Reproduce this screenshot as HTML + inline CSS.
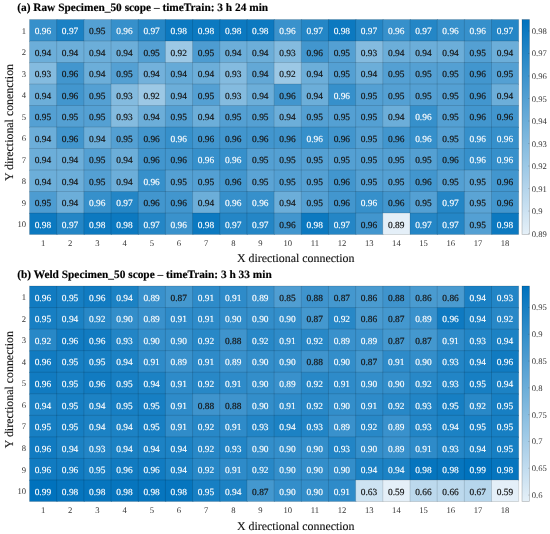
<!DOCTYPE html>
<html><head><meta charset="utf-8"><style>
html,body{margin:0;padding:0;background:#fff;width:550px;height:534px;overflow:hidden}
svg{display:block;text-rendering:geometricPrecision}
text{font-family:"Liberation Serif","Times New Roman",serif;font-size:9.4px;text-anchor:middle}
text.tk{font-size:8.6px;fill:#333;text-anchor:start}
text.ti{font-size:11.35px;font-weight:bold;fill:#000;stroke:#000;stroke-width:0.15px;text-anchor:start;letter-spacing:0px}
text.ax{font-size:11.9px;fill:#111;stroke:#111;stroke-width:0.12px;text-anchor:start}
text.tm{text-anchor:middle}
text.te{text-anchor:end}
</style></head><body>
<svg width="550" height="534" viewBox="0 0 550 534">
<rect width="550" height="534" fill="#fff"/>
<rect x="29.50" y="19.50" width="27.98" height="22.30" fill="#3690cb"/>
<rect x="56.68" y="19.50" width="27.98" height="22.30" fill="#1b81c4"/>
<rect x="83.86" y="19.50" width="27.98" height="22.30" fill="#54a0d3"/>
<rect x="111.03" y="19.50" width="27.98" height="22.30" fill="#3690cb"/>
<rect x="138.21" y="19.50" width="27.98" height="22.30" fill="#2486c6"/>
<rect x="165.39" y="19.50" width="27.98" height="22.30" fill="#0c79c0"/>
<rect x="192.57" y="19.50" width="27.98" height="22.30" fill="#0c79c0"/>
<rect x="219.74" y="19.50" width="27.98" height="22.30" fill="#0c79c0"/>
<rect x="246.92" y="19.50" width="27.98" height="22.30" fill="#0c79c0"/>
<rect x="274.10" y="19.50" width="27.98" height="22.30" fill="#3a92cc"/>
<rect x="301.28" y="19.50" width="27.98" height="22.30" fill="#2486c6"/>
<rect x="328.46" y="19.50" width="27.98" height="22.30" fill="#0c79c0"/>
<rect x="355.63" y="19.50" width="27.98" height="22.30" fill="#2486c6"/>
<rect x="382.81" y="19.50" width="27.98" height="22.30" fill="#3690cb"/>
<rect x="409.99" y="19.50" width="27.98" height="22.30" fill="#2486c6"/>
<rect x="437.17" y="19.50" width="27.98" height="22.30" fill="#3690cb"/>
<rect x="464.34" y="19.50" width="27.98" height="22.30" fill="#3690cb"/>
<rect x="491.52" y="19.50" width="27.18" height="22.30" fill="#2486c6"/>
<rect x="29.50" y="41.00" width="27.98" height="22.30" fill="#6caed9"/>
<rect x="56.68" y="41.00" width="27.98" height="22.30" fill="#6caed9"/>
<rect x="83.86" y="41.00" width="27.98" height="22.30" fill="#6caed9"/>
<rect x="111.03" y="41.00" width="27.98" height="22.30" fill="#6caed9"/>
<rect x="138.21" y="41.00" width="27.98" height="22.30" fill="#54a0d3"/>
<rect x="165.39" y="41.00" width="27.98" height="22.30" fill="#9cc8e5"/>
<rect x="192.57" y="41.00" width="27.98" height="22.30" fill="#4d9cd1"/>
<rect x="219.74" y="41.00" width="27.98" height="22.30" fill="#6caed9"/>
<rect x="246.92" y="41.00" width="27.98" height="22.30" fill="#6caed9"/>
<rect x="274.10" y="41.00" width="27.98" height="22.30" fill="#84bbdf"/>
<rect x="301.28" y="41.00" width="27.98" height="22.30" fill="#4296ce"/>
<rect x="328.46" y="41.00" width="27.98" height="22.30" fill="#54a0d3"/>
<rect x="355.63" y="41.00" width="27.98" height="22.30" fill="#84bbdf"/>
<rect x="382.81" y="41.00" width="27.98" height="22.30" fill="#6caed9"/>
<rect x="409.99" y="41.00" width="27.98" height="22.30" fill="#6caed9"/>
<rect x="437.17" y="41.00" width="27.98" height="22.30" fill="#6caed9"/>
<rect x="464.34" y="41.00" width="27.98" height="22.30" fill="#54a0d3"/>
<rect x="491.52" y="41.00" width="27.18" height="22.30" fill="#6caed9"/>
<rect x="29.50" y="62.50" width="27.98" height="22.30" fill="#84bbdf"/>
<rect x="56.68" y="62.50" width="27.98" height="22.30" fill="#4296ce"/>
<rect x="83.86" y="62.50" width="27.98" height="22.30" fill="#6caed9"/>
<rect x="111.03" y="62.50" width="27.98" height="22.30" fill="#54a0d3"/>
<rect x="138.21" y="62.50" width="27.98" height="22.30" fill="#73b1db"/>
<rect x="165.39" y="62.50" width="27.98" height="22.30" fill="#65aad7"/>
<rect x="192.57" y="62.50" width="27.98" height="22.30" fill="#6caed9"/>
<rect x="219.74" y="62.50" width="27.98" height="22.30" fill="#84bbdf"/>
<rect x="246.92" y="62.50" width="27.98" height="22.30" fill="#63a8d6"/>
<rect x="274.10" y="62.50" width="27.98" height="22.30" fill="#9cc8e5"/>
<rect x="301.28" y="62.50" width="27.98" height="22.30" fill="#6caed9"/>
<rect x="328.46" y="62.50" width="27.98" height="22.30" fill="#54a0d3"/>
<rect x="355.63" y="62.50" width="27.98" height="22.30" fill="#6caed9"/>
<rect x="382.81" y="62.50" width="27.98" height="22.30" fill="#54a0d3"/>
<rect x="409.99" y="62.50" width="27.98" height="22.30" fill="#54a0d3"/>
<rect x="437.17" y="62.50" width="27.98" height="22.30" fill="#54a0d3"/>
<rect x="464.34" y="62.50" width="27.98" height="22.30" fill="#4296ce"/>
<rect x="491.52" y="62.50" width="27.18" height="22.30" fill="#54a0d3"/>
<rect x="29.50" y="84.00" width="27.98" height="22.30" fill="#6caed9"/>
<rect x="56.68" y="84.00" width="27.98" height="22.30" fill="#4296ce"/>
<rect x="83.86" y="84.00" width="27.98" height="22.30" fill="#54a0d3"/>
<rect x="111.03" y="84.00" width="27.98" height="22.30" fill="#84bbdf"/>
<rect x="138.21" y="84.00" width="27.98" height="22.30" fill="#9cc8e5"/>
<rect x="165.39" y="84.00" width="27.98" height="22.30" fill="#6caed9"/>
<rect x="192.57" y="84.00" width="27.98" height="22.30" fill="#54a0d3"/>
<rect x="219.74" y="84.00" width="27.98" height="22.30" fill="#84bbdf"/>
<rect x="246.92" y="84.00" width="27.98" height="22.30" fill="#6caed9"/>
<rect x="274.10" y="84.00" width="27.98" height="22.30" fill="#4296ce"/>
<rect x="301.28" y="84.00" width="27.98" height="22.30" fill="#6caed9"/>
<rect x="328.46" y="84.00" width="27.98" height="22.30" fill="#3690cb"/>
<rect x="355.63" y="84.00" width="27.98" height="22.30" fill="#54a0d3"/>
<rect x="382.81" y="84.00" width="27.98" height="22.30" fill="#54a0d3"/>
<rect x="409.99" y="84.00" width="27.98" height="22.30" fill="#54a0d3"/>
<rect x="437.17" y="84.00" width="27.98" height="22.30" fill="#54a0d3"/>
<rect x="464.34" y="84.00" width="27.98" height="22.30" fill="#4296ce"/>
<rect x="491.52" y="84.00" width="27.18" height="22.30" fill="#6caed9"/>
<rect x="29.50" y="105.50" width="27.98" height="22.30" fill="#54a0d3"/>
<rect x="56.68" y="105.50" width="27.98" height="22.30" fill="#54a0d3"/>
<rect x="83.86" y="105.50" width="27.98" height="22.30" fill="#54a0d3"/>
<rect x="111.03" y="105.50" width="27.98" height="22.30" fill="#84bbdf"/>
<rect x="138.21" y="105.50" width="27.98" height="22.30" fill="#6caed9"/>
<rect x="165.39" y="105.50" width="27.98" height="22.30" fill="#54a0d3"/>
<rect x="192.57" y="105.50" width="27.98" height="22.30" fill="#6caed9"/>
<rect x="219.74" y="105.50" width="27.98" height="22.30" fill="#54a0d3"/>
<rect x="246.92" y="105.50" width="27.98" height="22.30" fill="#54a0d3"/>
<rect x="274.10" y="105.50" width="27.98" height="22.30" fill="#6caed9"/>
<rect x="301.28" y="105.50" width="27.98" height="22.30" fill="#54a0d3"/>
<rect x="328.46" y="105.50" width="27.98" height="22.30" fill="#54a0d3"/>
<rect x="355.63" y="105.50" width="27.98" height="22.30" fill="#54a0d3"/>
<rect x="382.81" y="105.50" width="27.98" height="22.30" fill="#6caed9"/>
<rect x="409.99" y="105.50" width="27.98" height="22.30" fill="#3690cb"/>
<rect x="437.17" y="105.50" width="27.98" height="22.30" fill="#54a0d3"/>
<rect x="464.34" y="105.50" width="27.98" height="22.30" fill="#4296ce"/>
<rect x="491.52" y="105.50" width="27.18" height="22.30" fill="#4296ce"/>
<rect x="29.50" y="127.00" width="27.98" height="22.30" fill="#6caed9"/>
<rect x="56.68" y="127.00" width="27.98" height="22.30" fill="#4296ce"/>
<rect x="83.86" y="127.00" width="27.98" height="22.30" fill="#6caed9"/>
<rect x="111.03" y="127.00" width="27.98" height="22.30" fill="#54a0d3"/>
<rect x="138.21" y="127.00" width="27.98" height="22.30" fill="#4296ce"/>
<rect x="165.39" y="127.00" width="27.98" height="22.30" fill="#3690cb"/>
<rect x="192.57" y="127.00" width="27.98" height="22.30" fill="#4296ce"/>
<rect x="219.74" y="127.00" width="27.98" height="22.30" fill="#4296ce"/>
<rect x="246.92" y="127.00" width="27.98" height="22.30" fill="#4296ce"/>
<rect x="274.10" y="127.00" width="27.98" height="22.30" fill="#4296ce"/>
<rect x="301.28" y="127.00" width="27.98" height="22.30" fill="#3690cb"/>
<rect x="328.46" y="127.00" width="27.98" height="22.30" fill="#4296ce"/>
<rect x="355.63" y="127.00" width="27.98" height="22.30" fill="#54a0d3"/>
<rect x="382.81" y="127.00" width="27.98" height="22.30" fill="#4296ce"/>
<rect x="409.99" y="127.00" width="27.98" height="22.30" fill="#3690cb"/>
<rect x="437.17" y="127.00" width="27.98" height="22.30" fill="#54a0d3"/>
<rect x="464.34" y="127.00" width="27.98" height="22.30" fill="#3690cb"/>
<rect x="491.52" y="127.00" width="27.18" height="22.30" fill="#3690cb"/>
<rect x="29.50" y="148.50" width="27.98" height="22.30" fill="#6caed9"/>
<rect x="56.68" y="148.50" width="27.98" height="22.30" fill="#6caed9"/>
<rect x="83.86" y="148.50" width="27.98" height="22.30" fill="#54a0d3"/>
<rect x="111.03" y="148.50" width="27.98" height="22.30" fill="#6caed9"/>
<rect x="138.21" y="148.50" width="27.98" height="22.30" fill="#4296ce"/>
<rect x="165.39" y="148.50" width="27.98" height="22.30" fill="#4296ce"/>
<rect x="192.57" y="148.50" width="27.98" height="22.30" fill="#3690cb"/>
<rect x="219.74" y="148.50" width="27.98" height="22.30" fill="#3690cb"/>
<rect x="246.92" y="148.50" width="27.98" height="22.30" fill="#54a0d3"/>
<rect x="274.10" y="148.50" width="27.98" height="22.30" fill="#54a0d3"/>
<rect x="301.28" y="148.50" width="27.98" height="22.30" fill="#54a0d3"/>
<rect x="328.46" y="148.50" width="27.98" height="22.30" fill="#54a0d3"/>
<rect x="355.63" y="148.50" width="27.98" height="22.30" fill="#54a0d3"/>
<rect x="382.81" y="148.50" width="27.98" height="22.30" fill="#54a0d3"/>
<rect x="409.99" y="148.50" width="27.98" height="22.30" fill="#54a0d3"/>
<rect x="437.17" y="148.50" width="27.98" height="22.30" fill="#4296ce"/>
<rect x="464.34" y="148.50" width="27.98" height="22.30" fill="#3690cb"/>
<rect x="491.52" y="148.50" width="27.18" height="22.30" fill="#3690cb"/>
<rect x="29.50" y="170.00" width="27.98" height="22.30" fill="#6caed9"/>
<rect x="56.68" y="170.00" width="27.98" height="22.30" fill="#6caed9"/>
<rect x="83.86" y="170.00" width="27.98" height="22.30" fill="#54a0d3"/>
<rect x="111.03" y="170.00" width="27.98" height="22.30" fill="#6caed9"/>
<rect x="138.21" y="170.00" width="27.98" height="22.30" fill="#3690cb"/>
<rect x="165.39" y="170.00" width="27.98" height="22.30" fill="#54a0d3"/>
<rect x="192.57" y="170.00" width="27.98" height="22.30" fill="#54a0d3"/>
<rect x="219.74" y="170.00" width="27.98" height="22.30" fill="#4296ce"/>
<rect x="246.92" y="170.00" width="27.98" height="22.30" fill="#5ba4d5"/>
<rect x="274.10" y="170.00" width="27.98" height="22.30" fill="#54a0d3"/>
<rect x="301.28" y="170.00" width="27.98" height="22.30" fill="#54a0d3"/>
<rect x="328.46" y="170.00" width="27.98" height="22.30" fill="#4296ce"/>
<rect x="355.63" y="170.00" width="27.98" height="22.30" fill="#54a0d3"/>
<rect x="382.81" y="170.00" width="27.98" height="22.30" fill="#54a0d3"/>
<rect x="409.99" y="170.00" width="27.98" height="22.30" fill="#4296ce"/>
<rect x="437.17" y="170.00" width="27.98" height="22.30" fill="#54a0d3"/>
<rect x="464.34" y="170.00" width="27.98" height="22.30" fill="#5ba4d5"/>
<rect x="491.52" y="170.00" width="27.18" height="22.30" fill="#4296ce"/>
<rect x="29.50" y="191.50" width="27.98" height="22.30" fill="#4d9cd1"/>
<rect x="56.68" y="191.50" width="27.98" height="22.30" fill="#6caed9"/>
<rect x="83.86" y="191.50" width="27.98" height="22.30" fill="#3690cb"/>
<rect x="111.03" y="191.50" width="27.98" height="22.30" fill="#2486c6"/>
<rect x="138.21" y="191.50" width="27.98" height="22.30" fill="#4296ce"/>
<rect x="165.39" y="191.50" width="27.98" height="22.30" fill="#4296ce"/>
<rect x="192.57" y="191.50" width="27.98" height="22.30" fill="#6caed9"/>
<rect x="219.74" y="191.50" width="27.98" height="22.30" fill="#3690cb"/>
<rect x="246.92" y="191.50" width="27.98" height="22.30" fill="#3690cb"/>
<rect x="274.10" y="191.50" width="27.98" height="22.30" fill="#6caed9"/>
<rect x="301.28" y="191.50" width="27.98" height="22.30" fill="#54a0d3"/>
<rect x="328.46" y="191.50" width="27.98" height="22.30" fill="#4296ce"/>
<rect x="355.63" y="191.50" width="27.98" height="22.30" fill="#3690cb"/>
<rect x="382.81" y="191.50" width="27.98" height="22.30" fill="#4296ce"/>
<rect x="409.99" y="191.50" width="27.98" height="22.30" fill="#54a0d3"/>
<rect x="437.17" y="191.50" width="27.98" height="22.30" fill="#2486c6"/>
<rect x="464.34" y="191.50" width="27.98" height="22.30" fill="#5ba4d5"/>
<rect x="491.52" y="191.50" width="27.18" height="22.30" fill="#4296ce"/>
<rect x="29.50" y="213.00" width="27.98" height="21.50" fill="#0c79c0"/>
<rect x="56.68" y="213.00" width="27.98" height="21.50" fill="#2486c6"/>
<rect x="83.86" y="213.00" width="27.98" height="21.50" fill="#0c79c0"/>
<rect x="111.03" y="213.00" width="27.98" height="21.50" fill="#0c79c0"/>
<rect x="138.21" y="213.00" width="27.98" height="21.50" fill="#2486c6"/>
<rect x="165.39" y="213.00" width="27.98" height="21.50" fill="#3a92cc"/>
<rect x="192.57" y="213.00" width="27.98" height="21.50" fill="#0c79c0"/>
<rect x="219.74" y="213.00" width="27.98" height="21.50" fill="#2486c6"/>
<rect x="246.92" y="213.00" width="27.98" height="21.50" fill="#2486c6"/>
<rect x="274.10" y="213.00" width="27.98" height="21.50" fill="#4296ce"/>
<rect x="301.28" y="213.00" width="27.98" height="21.50" fill="#0c79c0"/>
<rect x="328.46" y="213.00" width="27.98" height="21.50" fill="#2486c6"/>
<rect x="355.63" y="213.00" width="27.98" height="21.50" fill="#4296ce"/>
<rect x="382.81" y="213.00" width="27.98" height="21.50" fill="#e4eff8"/>
<rect x="409.99" y="213.00" width="27.98" height="21.50" fill="#2486c6"/>
<rect x="437.17" y="213.00" width="27.98" height="21.50" fill="#2486c6"/>
<rect x="464.34" y="213.00" width="27.98" height="21.50" fill="#54a0d3"/>
<rect x="491.52" y="213.00" width="27.18" height="21.50" fill="#0c79c0"/>
<path d="M56.68 19.50V234.50M83.86 19.50V234.50M111.03 19.50V234.50M138.21 19.50V234.50M165.39 19.50V234.50M192.57 19.50V234.50M219.74 19.50V234.50M246.92 19.50V234.50M274.10 19.50V234.50M301.28 19.50V234.50M328.46 19.50V234.50M355.63 19.50V234.50M382.81 19.50V234.50M409.99 19.50V234.50M437.17 19.50V234.50M464.34 19.50V234.50M491.52 19.50V234.50M29.50 41.00H518.70M29.50 62.50H518.70M29.50 84.00H518.70M29.50 105.50H518.70M29.50 127.00H518.70M29.50 148.50H518.70M29.50 170.00H518.70M29.50 191.50H518.70M29.50 213.00H518.70" stroke="#000" stroke-opacity="0.15" stroke-width="0.9" fill="none"/>
<rect x="29.50" y="19.50" width="489.20" height="215.00" fill="none" stroke="#000" stroke-opacity="0.15" stroke-width="0.9"/>
<text x="42.89" y="34.25" fill="#fff" stroke="#fff" stroke-width="0.12">0.96</text>
<text x="70.07" y="34.25" fill="#fff" stroke="#fff" stroke-width="0.12">0.97</text>
<text x="97.24" y="34.25" fill="#151515" stroke="#151515" stroke-width="0.18">0.95</text>
<text x="124.42" y="34.25" fill="#fff" stroke="#fff" stroke-width="0.12">0.96</text>
<text x="151.60" y="34.25" fill="#fff" stroke="#fff" stroke-width="0.12">0.97</text>
<text x="178.78" y="34.25" fill="#fff" stroke="#fff" stroke-width="0.12">0.98</text>
<text x="205.96" y="34.25" fill="#fff" stroke="#fff" stroke-width="0.12">0.98</text>
<text x="233.13" y="34.25" fill="#fff" stroke="#fff" stroke-width="0.12">0.98</text>
<text x="260.31" y="34.25" fill="#fff" stroke="#fff" stroke-width="0.12">0.98</text>
<text x="287.49" y="34.25" fill="#fff" stroke="#fff" stroke-width="0.12">0.96</text>
<text x="314.67" y="34.25" fill="#fff" stroke="#fff" stroke-width="0.12">0.97</text>
<text x="341.84" y="34.25" fill="#fff" stroke="#fff" stroke-width="0.12">0.98</text>
<text x="369.02" y="34.25" fill="#fff" stroke="#fff" stroke-width="0.12">0.97</text>
<text x="396.20" y="34.25" fill="#fff" stroke="#fff" stroke-width="0.12">0.96</text>
<text x="423.38" y="34.25" fill="#fff" stroke="#fff" stroke-width="0.12">0.97</text>
<text x="450.56" y="34.25" fill="#fff" stroke="#fff" stroke-width="0.12">0.96</text>
<text x="477.73" y="34.25" fill="#fff" stroke="#fff" stroke-width="0.12">0.96</text>
<text x="504.91" y="34.25" fill="#fff" stroke="#fff" stroke-width="0.12">0.97</text>
<text x="42.89" y="55.75" fill="#151515" stroke="#151515" stroke-width="0.18">0.94</text>
<text x="70.07" y="55.75" fill="#151515" stroke="#151515" stroke-width="0.18">0.94</text>
<text x="97.24" y="55.75" fill="#151515" stroke="#151515" stroke-width="0.18">0.94</text>
<text x="124.42" y="55.75" fill="#151515" stroke="#151515" stroke-width="0.18">0.94</text>
<text x="151.60" y="55.75" fill="#151515" stroke="#151515" stroke-width="0.18">0.95</text>
<text x="178.78" y="55.75" fill="#151515" stroke="#151515" stroke-width="0.18">0.92</text>
<text x="205.96" y="55.75" fill="#151515" stroke="#151515" stroke-width="0.18">0.95</text>
<text x="233.13" y="55.75" fill="#151515" stroke="#151515" stroke-width="0.18">0.94</text>
<text x="260.31" y="55.75" fill="#151515" stroke="#151515" stroke-width="0.18">0.94</text>
<text x="287.49" y="55.75" fill="#151515" stroke="#151515" stroke-width="0.18">0.93</text>
<text x="314.67" y="55.75" fill="#151515" stroke="#151515" stroke-width="0.18">0.96</text>
<text x="341.84" y="55.75" fill="#151515" stroke="#151515" stroke-width="0.18">0.95</text>
<text x="369.02" y="55.75" fill="#151515" stroke="#151515" stroke-width="0.18">0.93</text>
<text x="396.20" y="55.75" fill="#151515" stroke="#151515" stroke-width="0.18">0.94</text>
<text x="423.38" y="55.75" fill="#151515" stroke="#151515" stroke-width="0.18">0.94</text>
<text x="450.56" y="55.75" fill="#151515" stroke="#151515" stroke-width="0.18">0.94</text>
<text x="477.73" y="55.75" fill="#151515" stroke="#151515" stroke-width="0.18">0.95</text>
<text x="504.91" y="55.75" fill="#151515" stroke="#151515" stroke-width="0.18">0.94</text>
<text x="42.89" y="77.25" fill="#151515" stroke="#151515" stroke-width="0.18">0.93</text>
<text x="70.07" y="77.25" fill="#151515" stroke="#151515" stroke-width="0.18">0.96</text>
<text x="97.24" y="77.25" fill="#151515" stroke="#151515" stroke-width="0.18">0.94</text>
<text x="124.42" y="77.25" fill="#151515" stroke="#151515" stroke-width="0.18">0.95</text>
<text x="151.60" y="77.25" fill="#151515" stroke="#151515" stroke-width="0.18">0.94</text>
<text x="178.78" y="77.25" fill="#151515" stroke="#151515" stroke-width="0.18">0.94</text>
<text x="205.96" y="77.25" fill="#151515" stroke="#151515" stroke-width="0.18">0.94</text>
<text x="233.13" y="77.25" fill="#151515" stroke="#151515" stroke-width="0.18">0.93</text>
<text x="260.31" y="77.25" fill="#151515" stroke="#151515" stroke-width="0.18">0.94</text>
<text x="287.49" y="77.25" fill="#151515" stroke="#151515" stroke-width="0.18">0.92</text>
<text x="314.67" y="77.25" fill="#151515" stroke="#151515" stroke-width="0.18">0.94</text>
<text x="341.84" y="77.25" fill="#151515" stroke="#151515" stroke-width="0.18">0.95</text>
<text x="369.02" y="77.25" fill="#151515" stroke="#151515" stroke-width="0.18">0.94</text>
<text x="396.20" y="77.25" fill="#151515" stroke="#151515" stroke-width="0.18">0.95</text>
<text x="423.38" y="77.25" fill="#151515" stroke="#151515" stroke-width="0.18">0.95</text>
<text x="450.56" y="77.25" fill="#151515" stroke="#151515" stroke-width="0.18">0.95</text>
<text x="477.73" y="77.25" fill="#151515" stroke="#151515" stroke-width="0.18">0.96</text>
<text x="504.91" y="77.25" fill="#151515" stroke="#151515" stroke-width="0.18">0.95</text>
<text x="42.89" y="98.75" fill="#151515" stroke="#151515" stroke-width="0.18">0.94</text>
<text x="70.07" y="98.75" fill="#151515" stroke="#151515" stroke-width="0.18">0.96</text>
<text x="97.24" y="98.75" fill="#151515" stroke="#151515" stroke-width="0.18">0.95</text>
<text x="124.42" y="98.75" fill="#151515" stroke="#151515" stroke-width="0.18">0.93</text>
<text x="151.60" y="98.75" fill="#151515" stroke="#151515" stroke-width="0.18">0.92</text>
<text x="178.78" y="98.75" fill="#151515" stroke="#151515" stroke-width="0.18">0.94</text>
<text x="205.96" y="98.75" fill="#151515" stroke="#151515" stroke-width="0.18">0.95</text>
<text x="233.13" y="98.75" fill="#151515" stroke="#151515" stroke-width="0.18">0.93</text>
<text x="260.31" y="98.75" fill="#151515" stroke="#151515" stroke-width="0.18">0.94</text>
<text x="287.49" y="98.75" fill="#151515" stroke="#151515" stroke-width="0.18">0.96</text>
<text x="314.67" y="98.75" fill="#151515" stroke="#151515" stroke-width="0.18">0.94</text>
<text x="341.84" y="98.75" fill="#fff" stroke="#fff" stroke-width="0.12">0.96</text>
<text x="369.02" y="98.75" fill="#151515" stroke="#151515" stroke-width="0.18">0.95</text>
<text x="396.20" y="98.75" fill="#151515" stroke="#151515" stroke-width="0.18">0.95</text>
<text x="423.38" y="98.75" fill="#151515" stroke="#151515" stroke-width="0.18">0.95</text>
<text x="450.56" y="98.75" fill="#151515" stroke="#151515" stroke-width="0.18">0.95</text>
<text x="477.73" y="98.75" fill="#151515" stroke="#151515" stroke-width="0.18">0.96</text>
<text x="504.91" y="98.75" fill="#151515" stroke="#151515" stroke-width="0.18">0.94</text>
<text x="42.89" y="120.25" fill="#151515" stroke="#151515" stroke-width="0.18">0.95</text>
<text x="70.07" y="120.25" fill="#151515" stroke="#151515" stroke-width="0.18">0.95</text>
<text x="97.24" y="120.25" fill="#151515" stroke="#151515" stroke-width="0.18">0.95</text>
<text x="124.42" y="120.25" fill="#151515" stroke="#151515" stroke-width="0.18">0.93</text>
<text x="151.60" y="120.25" fill="#151515" stroke="#151515" stroke-width="0.18">0.94</text>
<text x="178.78" y="120.25" fill="#151515" stroke="#151515" stroke-width="0.18">0.95</text>
<text x="205.96" y="120.25" fill="#151515" stroke="#151515" stroke-width="0.18">0.94</text>
<text x="233.13" y="120.25" fill="#151515" stroke="#151515" stroke-width="0.18">0.95</text>
<text x="260.31" y="120.25" fill="#151515" stroke="#151515" stroke-width="0.18">0.95</text>
<text x="287.49" y="120.25" fill="#151515" stroke="#151515" stroke-width="0.18">0.94</text>
<text x="314.67" y="120.25" fill="#151515" stroke="#151515" stroke-width="0.18">0.95</text>
<text x="341.84" y="120.25" fill="#151515" stroke="#151515" stroke-width="0.18">0.95</text>
<text x="369.02" y="120.25" fill="#151515" stroke="#151515" stroke-width="0.18">0.95</text>
<text x="396.20" y="120.25" fill="#151515" stroke="#151515" stroke-width="0.18">0.94</text>
<text x="423.38" y="120.25" fill="#fff" stroke="#fff" stroke-width="0.12">0.96</text>
<text x="450.56" y="120.25" fill="#151515" stroke="#151515" stroke-width="0.18">0.95</text>
<text x="477.73" y="120.25" fill="#151515" stroke="#151515" stroke-width="0.18">0.96</text>
<text x="504.91" y="120.25" fill="#151515" stroke="#151515" stroke-width="0.18">0.96</text>
<text x="42.89" y="141.75" fill="#151515" stroke="#151515" stroke-width="0.18">0.94</text>
<text x="70.07" y="141.75" fill="#151515" stroke="#151515" stroke-width="0.18">0.96</text>
<text x="97.24" y="141.75" fill="#151515" stroke="#151515" stroke-width="0.18">0.94</text>
<text x="124.42" y="141.75" fill="#151515" stroke="#151515" stroke-width="0.18">0.95</text>
<text x="151.60" y="141.75" fill="#151515" stroke="#151515" stroke-width="0.18">0.96</text>
<text x="178.78" y="141.75" fill="#fff" stroke="#fff" stroke-width="0.12">0.96</text>
<text x="205.96" y="141.75" fill="#151515" stroke="#151515" stroke-width="0.18">0.96</text>
<text x="233.13" y="141.75" fill="#151515" stroke="#151515" stroke-width="0.18">0.96</text>
<text x="260.31" y="141.75" fill="#151515" stroke="#151515" stroke-width="0.18">0.96</text>
<text x="287.49" y="141.75" fill="#151515" stroke="#151515" stroke-width="0.18">0.96</text>
<text x="314.67" y="141.75" fill="#fff" stroke="#fff" stroke-width="0.12">0.96</text>
<text x="341.84" y="141.75" fill="#151515" stroke="#151515" stroke-width="0.18">0.96</text>
<text x="369.02" y="141.75" fill="#151515" stroke="#151515" stroke-width="0.18">0.95</text>
<text x="396.20" y="141.75" fill="#151515" stroke="#151515" stroke-width="0.18">0.96</text>
<text x="423.38" y="141.75" fill="#fff" stroke="#fff" stroke-width="0.12">0.96</text>
<text x="450.56" y="141.75" fill="#151515" stroke="#151515" stroke-width="0.18">0.95</text>
<text x="477.73" y="141.75" fill="#fff" stroke="#fff" stroke-width="0.12">0.96</text>
<text x="504.91" y="141.75" fill="#fff" stroke="#fff" stroke-width="0.12">0.96</text>
<text x="42.89" y="163.25" fill="#151515" stroke="#151515" stroke-width="0.18">0.94</text>
<text x="70.07" y="163.25" fill="#151515" stroke="#151515" stroke-width="0.18">0.94</text>
<text x="97.24" y="163.25" fill="#151515" stroke="#151515" stroke-width="0.18">0.95</text>
<text x="124.42" y="163.25" fill="#151515" stroke="#151515" stroke-width="0.18">0.94</text>
<text x="151.60" y="163.25" fill="#151515" stroke="#151515" stroke-width="0.18">0.96</text>
<text x="178.78" y="163.25" fill="#151515" stroke="#151515" stroke-width="0.18">0.96</text>
<text x="205.96" y="163.25" fill="#fff" stroke="#fff" stroke-width="0.12">0.96</text>
<text x="233.13" y="163.25" fill="#fff" stroke="#fff" stroke-width="0.12">0.96</text>
<text x="260.31" y="163.25" fill="#151515" stroke="#151515" stroke-width="0.18">0.95</text>
<text x="287.49" y="163.25" fill="#151515" stroke="#151515" stroke-width="0.18">0.95</text>
<text x="314.67" y="163.25" fill="#151515" stroke="#151515" stroke-width="0.18">0.95</text>
<text x="341.84" y="163.25" fill="#151515" stroke="#151515" stroke-width="0.18">0.95</text>
<text x="369.02" y="163.25" fill="#151515" stroke="#151515" stroke-width="0.18">0.95</text>
<text x="396.20" y="163.25" fill="#151515" stroke="#151515" stroke-width="0.18">0.95</text>
<text x="423.38" y="163.25" fill="#151515" stroke="#151515" stroke-width="0.18">0.95</text>
<text x="450.56" y="163.25" fill="#151515" stroke="#151515" stroke-width="0.18">0.96</text>
<text x="477.73" y="163.25" fill="#fff" stroke="#fff" stroke-width="0.12">0.96</text>
<text x="504.91" y="163.25" fill="#fff" stroke="#fff" stroke-width="0.12">0.96</text>
<text x="42.89" y="184.75" fill="#151515" stroke="#151515" stroke-width="0.18">0.94</text>
<text x="70.07" y="184.75" fill="#151515" stroke="#151515" stroke-width="0.18">0.94</text>
<text x="97.24" y="184.75" fill="#151515" stroke="#151515" stroke-width="0.18">0.95</text>
<text x="124.42" y="184.75" fill="#151515" stroke="#151515" stroke-width="0.18">0.94</text>
<text x="151.60" y="184.75" fill="#fff" stroke="#fff" stroke-width="0.12">0.96</text>
<text x="178.78" y="184.75" fill="#151515" stroke="#151515" stroke-width="0.18">0.95</text>
<text x="205.96" y="184.75" fill="#151515" stroke="#151515" stroke-width="0.18">0.95</text>
<text x="233.13" y="184.75" fill="#151515" stroke="#151515" stroke-width="0.18">0.96</text>
<text x="260.31" y="184.75" fill="#151515" stroke="#151515" stroke-width="0.18">0.95</text>
<text x="287.49" y="184.75" fill="#151515" stroke="#151515" stroke-width="0.18">0.95</text>
<text x="314.67" y="184.75" fill="#151515" stroke="#151515" stroke-width="0.18">0.95</text>
<text x="341.84" y="184.75" fill="#151515" stroke="#151515" stroke-width="0.18">0.96</text>
<text x="369.02" y="184.75" fill="#151515" stroke="#151515" stroke-width="0.18">0.95</text>
<text x="396.20" y="184.75" fill="#151515" stroke="#151515" stroke-width="0.18">0.95</text>
<text x="423.38" y="184.75" fill="#151515" stroke="#151515" stroke-width="0.18">0.96</text>
<text x="450.56" y="184.75" fill="#151515" stroke="#151515" stroke-width="0.18">0.95</text>
<text x="477.73" y="184.75" fill="#151515" stroke="#151515" stroke-width="0.18">0.95</text>
<text x="504.91" y="184.75" fill="#151515" stroke="#151515" stroke-width="0.18">0.96</text>
<text x="42.89" y="206.25" fill="#151515" stroke="#151515" stroke-width="0.18">0.95</text>
<text x="70.07" y="206.25" fill="#151515" stroke="#151515" stroke-width="0.18">0.94</text>
<text x="97.24" y="206.25" fill="#fff" stroke="#fff" stroke-width="0.12">0.96</text>
<text x="124.42" y="206.25" fill="#fff" stroke="#fff" stroke-width="0.12">0.97</text>
<text x="151.60" y="206.25" fill="#151515" stroke="#151515" stroke-width="0.18">0.96</text>
<text x="178.78" y="206.25" fill="#151515" stroke="#151515" stroke-width="0.18">0.96</text>
<text x="205.96" y="206.25" fill="#151515" stroke="#151515" stroke-width="0.18">0.94</text>
<text x="233.13" y="206.25" fill="#fff" stroke="#fff" stroke-width="0.12">0.96</text>
<text x="260.31" y="206.25" fill="#fff" stroke="#fff" stroke-width="0.12">0.96</text>
<text x="287.49" y="206.25" fill="#151515" stroke="#151515" stroke-width="0.18">0.94</text>
<text x="314.67" y="206.25" fill="#151515" stroke="#151515" stroke-width="0.18">0.95</text>
<text x="341.84" y="206.25" fill="#151515" stroke="#151515" stroke-width="0.18">0.96</text>
<text x="369.02" y="206.25" fill="#fff" stroke="#fff" stroke-width="0.12">0.96</text>
<text x="396.20" y="206.25" fill="#151515" stroke="#151515" stroke-width="0.18">0.96</text>
<text x="423.38" y="206.25" fill="#151515" stroke="#151515" stroke-width="0.18">0.95</text>
<text x="450.56" y="206.25" fill="#fff" stroke="#fff" stroke-width="0.12">0.97</text>
<text x="477.73" y="206.25" fill="#151515" stroke="#151515" stroke-width="0.18">0.95</text>
<text x="504.91" y="206.25" fill="#151515" stroke="#151515" stroke-width="0.18">0.96</text>
<text x="42.89" y="227.75" fill="#fff" stroke="#fff" stroke-width="0.12">0.98</text>
<text x="70.07" y="227.75" fill="#fff" stroke="#fff" stroke-width="0.12">0.97</text>
<text x="97.24" y="227.75" fill="#fff" stroke="#fff" stroke-width="0.12">0.98</text>
<text x="124.42" y="227.75" fill="#fff" stroke="#fff" stroke-width="0.12">0.98</text>
<text x="151.60" y="227.75" fill="#fff" stroke="#fff" stroke-width="0.12">0.97</text>
<text x="178.78" y="227.75" fill="#fff" stroke="#fff" stroke-width="0.12">0.96</text>
<text x="205.96" y="227.75" fill="#fff" stroke="#fff" stroke-width="0.12">0.98</text>
<text x="233.13" y="227.75" fill="#fff" stroke="#fff" stroke-width="0.12">0.97</text>
<text x="260.31" y="227.75" fill="#fff" stroke="#fff" stroke-width="0.12">0.97</text>
<text x="287.49" y="227.75" fill="#151515" stroke="#151515" stroke-width="0.18">0.96</text>
<text x="314.67" y="227.75" fill="#fff" stroke="#fff" stroke-width="0.12">0.98</text>
<text x="341.84" y="227.75" fill="#fff" stroke="#fff" stroke-width="0.12">0.97</text>
<text x="369.02" y="227.75" fill="#151515" stroke="#151515" stroke-width="0.18">0.96</text>
<text x="396.20" y="227.75" fill="#151515" stroke="#151515" stroke-width="0.18">0.89</text>
<text x="423.38" y="227.75" fill="#fff" stroke="#fff" stroke-width="0.12">0.97</text>
<text x="450.56" y="227.75" fill="#fff" stroke="#fff" stroke-width="0.12">0.97</text>
<text x="477.73" y="227.75" fill="#151515" stroke="#151515" stroke-width="0.18">0.95</text>
<text x="504.91" y="227.75" fill="#fff" stroke="#fff" stroke-width="0.12">0.98</text>
<text class="tk tm" x="43.09" y="246.00">1</text>
<text class="tk tm" x="70.27" y="246.00">2</text>
<text class="tk tm" x="97.44" y="246.00">3</text>
<text class="tk tm" x="124.62" y="246.00">4</text>
<text class="tk tm" x="151.80" y="246.00">5</text>
<text class="tk tm" x="178.98" y="246.00">6</text>
<text class="tk tm" x="206.16" y="246.00">7</text>
<text class="tk tm" x="233.33" y="246.00">8</text>
<text class="tk tm" x="260.51" y="246.00">9</text>
<text class="tk tm" x="287.69" y="246.00">10</text>
<text class="tk tm" x="314.87" y="246.00">11</text>
<text class="tk tm" x="342.04" y="246.00">12</text>
<text class="tk tm" x="369.22" y="246.00">13</text>
<text class="tk tm" x="396.40" y="246.00">14</text>
<text class="tk tm" x="423.58" y="246.00">15</text>
<text class="tk tm" x="450.76" y="246.00">16</text>
<text class="tk tm" x="477.93" y="246.00">17</text>
<text class="tk tm" x="505.11" y="246.00">18</text>
<text class="tk te" x="26.00" y="33.65">1</text>
<text class="tk te" x="26.00" y="55.15">2</text>
<text class="tk te" x="26.00" y="76.65">3</text>
<text class="tk te" x="26.00" y="98.15">4</text>
<text class="tk te" x="26.00" y="119.65">5</text>
<text class="tk te" x="26.00" y="141.15">6</text>
<text class="tk te" x="26.00" y="162.65">7</text>
<text class="tk te" x="26.00" y="184.15">8</text>
<text class="tk te" x="26.00" y="205.65">9</text>
<text class="tk te" x="26.00" y="227.15">10</text>
<defs><linearGradient id="ga" x1="0" y1="0" x2="0" y2="1"><stop offset="0.0000" stop-color="#0072bd"/><stop offset="0.0625" stop-color="#0e7ac1"/><stop offset="0.1250" stop-color="#1d82c4"/><stop offset="0.1875" stop-color="#2b8ac8"/><stop offset="0.2500" stop-color="#3992cc"/><stop offset="0.3125" stop-color="#4899cf"/><stop offset="0.3750" stop-color="#56a1d3"/><stop offset="0.4375" stop-color="#64a9d7"/><stop offset="0.5000" stop-color="#72b1da"/><stop offset="0.5625" stop-color="#81b9de"/><stop offset="0.6250" stop-color="#8fc1e2"/><stop offset="0.6875" stop-color="#9dc9e6"/><stop offset="0.7500" stop-color="#acd0e9"/><stop offset="0.8125" stop-color="#bad8ed"/><stop offset="0.8750" stop-color="#c8e0f1"/><stop offset="0.9375" stop-color="#d7e8f4"/><stop offset="1.0000" stop-color="#e5f0f8"/></linearGradient></defs>
<rect x="522" y="19.50" width="7.5" height="215.00" fill="url(#ga)" stroke="rgba(0,0,0,0.3)" stroke-width="0.6"/>
<path d="M528.00 233.60H529.5" stroke="rgba(0,0,0,0.3)" stroke-width="0.5"/>
<text class="tk" x="531.70" y="236.60">0.89</text>
<path d="M528.00 211.09H529.5" stroke="rgba(0,0,0,0.3)" stroke-width="0.5"/>
<text class="tk" x="531.70" y="214.09">0.9</text>
<path d="M528.00 188.57H529.5" stroke="rgba(0,0,0,0.3)" stroke-width="0.5"/>
<text class="tk" x="531.70" y="191.57">0.91</text>
<path d="M528.00 166.06H529.5" stroke="rgba(0,0,0,0.3)" stroke-width="0.5"/>
<text class="tk" x="531.70" y="169.06">0.92</text>
<path d="M528.00 143.55H529.5" stroke="rgba(0,0,0,0.3)" stroke-width="0.5"/>
<text class="tk" x="531.70" y="146.55">0.93</text>
<path d="M528.00 121.03H529.5" stroke="rgba(0,0,0,0.3)" stroke-width="0.5"/>
<text class="tk" x="531.70" y="124.03">0.94</text>
<path d="M528.00 98.52H529.5" stroke="rgba(0,0,0,0.3)" stroke-width="0.5"/>
<text class="tk" x="531.70" y="101.52">0.95</text>
<path d="M528.00 76.01H529.5" stroke="rgba(0,0,0,0.3)" stroke-width="0.5"/>
<text class="tk" x="531.70" y="79.01">0.96</text>
<path d="M528.00 53.49H529.5" stroke="rgba(0,0,0,0.3)" stroke-width="0.5"/>
<text class="tk" x="531.70" y="56.49">0.97</text>
<path d="M528.00 30.98H529.5" stroke="rgba(0,0,0,0.3)" stroke-width="0.5"/>
<text class="tk" x="531.70" y="33.98">0.98</text>
<text class="ti" x="17.2" y="10.80">(a) Raw Specimen_50 scope – timeTrain: 3 h 24 min</text>
<text class="ax" x="236.9" y="261.70">X directional connection</text>
<text class="ax tm" transform="translate(12.5,122.50) rotate(-90)" x="0" y="0">Y directional conenction</text>
<rect x="29.50" y="286.00" width="27.98" height="22.35" fill="#117bc1"/>
<rect x="56.68" y="286.00" width="27.98" height="22.35" fill="#177fc3"/>
<rect x="83.86" y="286.00" width="27.98" height="22.35" fill="#117bc1"/>
<rect x="111.03" y="286.00" width="27.98" height="22.35" fill="#1c82c4"/>
<rect x="138.21" y="286.00" width="27.98" height="22.35" fill="#3991cc"/>
<rect x="165.39" y="286.00" width="27.98" height="22.35" fill="#4498cf"/>
<rect x="192.57" y="286.00" width="27.98" height="22.35" fill="#2e8bc9"/>
<rect x="219.74" y="286.00" width="27.98" height="22.35" fill="#2e8bc9"/>
<rect x="246.92" y="286.00" width="27.98" height="22.35" fill="#3991cc"/>
<rect x="274.10" y="286.00" width="27.98" height="22.35" fill="#509ed2"/>
<rect x="301.28" y="286.00" width="27.98" height="22.35" fill="#3f94cd"/>
<rect x="328.46" y="286.00" width="27.98" height="22.35" fill="#4498cf"/>
<rect x="355.63" y="286.00" width="27.98" height="22.35" fill="#4a9bd0"/>
<rect x="382.81" y="286.00" width="27.98" height="22.35" fill="#3f94cd"/>
<rect x="409.99" y="286.00" width="27.98" height="22.35" fill="#4a9bd0"/>
<rect x="437.17" y="286.00" width="27.98" height="22.35" fill="#4a9bd0"/>
<rect x="464.34" y="286.00" width="27.98" height="22.35" fill="#1a80c4"/>
<rect x="491.52" y="286.00" width="27.18" height="22.35" fill="#2285c6"/>
<rect x="29.50" y="307.55" width="27.98" height="22.35" fill="#177fc3"/>
<rect x="56.68" y="307.55" width="27.98" height="22.35" fill="#1c82c4"/>
<rect x="83.86" y="307.55" width="27.98" height="22.35" fill="#2888c7"/>
<rect x="111.03" y="307.55" width="27.98" height="22.35" fill="#338eca"/>
<rect x="138.21" y="307.55" width="27.98" height="22.35" fill="#3991cc"/>
<rect x="165.39" y="307.55" width="27.98" height="22.35" fill="#2e8bc9"/>
<rect x="192.57" y="307.55" width="27.98" height="22.35" fill="#2e8bc9"/>
<rect x="219.74" y="307.55" width="27.98" height="22.35" fill="#338eca"/>
<rect x="246.92" y="307.55" width="27.98" height="22.35" fill="#338eca"/>
<rect x="274.10" y="307.55" width="27.98" height="22.35" fill="#338eca"/>
<rect x="301.28" y="307.55" width="27.98" height="22.35" fill="#4498cf"/>
<rect x="328.46" y="307.55" width="27.98" height="22.35" fill="#2888c7"/>
<rect x="355.63" y="307.55" width="27.98" height="22.35" fill="#4a9bd0"/>
<rect x="382.81" y="307.55" width="27.98" height="22.35" fill="#4498cf"/>
<rect x="409.99" y="307.55" width="27.98" height="22.35" fill="#3991cc"/>
<rect x="437.17" y="307.55" width="27.98" height="22.35" fill="#0f7ac1"/>
<rect x="464.34" y="307.55" width="27.98" height="22.35" fill="#1c82c4"/>
<rect x="491.52" y="307.55" width="27.18" height="22.35" fill="#2888c7"/>
<rect x="29.50" y="329.10" width="27.98" height="22.35" fill="#2888c7"/>
<rect x="56.68" y="329.10" width="27.98" height="22.35" fill="#117bc1"/>
<rect x="83.86" y="329.10" width="27.98" height="22.35" fill="#117bc1"/>
<rect x="111.03" y="329.10" width="27.98" height="22.35" fill="#2285c6"/>
<rect x="138.21" y="329.10" width="27.98" height="22.35" fill="#338eca"/>
<rect x="165.39" y="329.10" width="27.98" height="22.35" fill="#338eca"/>
<rect x="192.57" y="329.10" width="27.98" height="22.35" fill="#2888c7"/>
<rect x="219.74" y="329.10" width="27.98" height="22.35" fill="#3f94cd"/>
<rect x="246.92" y="329.10" width="27.98" height="22.35" fill="#2888c7"/>
<rect x="274.10" y="329.10" width="27.98" height="22.35" fill="#2e8bc9"/>
<rect x="301.28" y="329.10" width="27.98" height="22.35" fill="#2888c7"/>
<rect x="328.46" y="329.10" width="27.98" height="22.35" fill="#3991cc"/>
<rect x="355.63" y="329.10" width="27.98" height="22.35" fill="#3991cc"/>
<rect x="382.81" y="329.10" width="27.98" height="22.35" fill="#4498cf"/>
<rect x="409.99" y="329.10" width="27.98" height="22.35" fill="#4498cf"/>
<rect x="437.17" y="329.10" width="27.98" height="22.35" fill="#2e8bc9"/>
<rect x="464.34" y="329.10" width="27.98" height="22.35" fill="#2285c6"/>
<rect x="491.52" y="329.10" width="27.18" height="22.35" fill="#1c82c4"/>
<rect x="29.50" y="350.65" width="27.98" height="22.35" fill="#117bc1"/>
<rect x="56.68" y="350.65" width="27.98" height="22.35" fill="#177fc3"/>
<rect x="83.86" y="350.65" width="27.98" height="22.35" fill="#177fc3"/>
<rect x="111.03" y="350.65" width="27.98" height="22.35" fill="#1c82c4"/>
<rect x="138.21" y="350.65" width="27.98" height="22.35" fill="#2e8bc9"/>
<rect x="165.39" y="350.65" width="27.98" height="22.35" fill="#3991cc"/>
<rect x="192.57" y="350.65" width="27.98" height="22.35" fill="#2e8bc9"/>
<rect x="219.74" y="350.65" width="27.98" height="22.35" fill="#3991cc"/>
<rect x="246.92" y="350.65" width="27.98" height="22.35" fill="#338eca"/>
<rect x="274.10" y="350.65" width="27.98" height="22.35" fill="#338eca"/>
<rect x="301.28" y="350.65" width="27.98" height="22.35" fill="#3f94cd"/>
<rect x="328.46" y="350.65" width="27.98" height="22.35" fill="#338eca"/>
<rect x="355.63" y="350.65" width="27.98" height="22.35" fill="#4498cf"/>
<rect x="382.81" y="350.65" width="27.98" height="22.35" fill="#2e8bc9"/>
<rect x="409.99" y="350.65" width="27.98" height="22.35" fill="#338eca"/>
<rect x="437.17" y="350.65" width="27.98" height="22.35" fill="#2285c6"/>
<rect x="464.34" y="350.65" width="27.98" height="22.35" fill="#1c82c4"/>
<rect x="491.52" y="350.65" width="27.18" height="22.35" fill="#117bc1"/>
<rect x="29.50" y="372.20" width="27.98" height="22.35" fill="#117bc1"/>
<rect x="56.68" y="372.20" width="27.98" height="22.35" fill="#177fc3"/>
<rect x="83.86" y="372.20" width="27.98" height="22.35" fill="#117bc1"/>
<rect x="111.03" y="372.20" width="27.98" height="22.35" fill="#177fc3"/>
<rect x="138.21" y="372.20" width="27.98" height="22.35" fill="#1c82c4"/>
<rect x="165.39" y="372.20" width="27.98" height="22.35" fill="#2e8bc9"/>
<rect x="192.57" y="372.20" width="27.98" height="22.35" fill="#2888c7"/>
<rect x="219.74" y="372.20" width="27.98" height="22.35" fill="#2e8bc9"/>
<rect x="246.92" y="372.20" width="27.98" height="22.35" fill="#338eca"/>
<rect x="274.10" y="372.20" width="27.98" height="22.35" fill="#3991cc"/>
<rect x="301.28" y="372.20" width="27.98" height="22.35" fill="#2888c7"/>
<rect x="328.46" y="372.20" width="27.98" height="22.35" fill="#2e8bc9"/>
<rect x="355.63" y="372.20" width="27.98" height="22.35" fill="#338eca"/>
<rect x="382.81" y="372.20" width="27.98" height="22.35" fill="#338eca"/>
<rect x="409.99" y="372.20" width="27.98" height="22.35" fill="#2888c7"/>
<rect x="437.17" y="372.20" width="27.98" height="22.35" fill="#2285c6"/>
<rect x="464.34" y="372.20" width="27.98" height="22.35" fill="#177fc3"/>
<rect x="491.52" y="372.20" width="27.18" height="22.35" fill="#1c82c4"/>
<rect x="29.50" y="393.75" width="27.98" height="22.35" fill="#1c82c4"/>
<rect x="56.68" y="393.75" width="27.98" height="22.35" fill="#177fc3"/>
<rect x="83.86" y="393.75" width="27.98" height="22.35" fill="#1c82c4"/>
<rect x="111.03" y="393.75" width="27.98" height="22.35" fill="#177fc3"/>
<rect x="138.21" y="393.75" width="27.98" height="22.35" fill="#177fc3"/>
<rect x="165.39" y="393.75" width="27.98" height="22.35" fill="#2e8bc9"/>
<rect x="192.57" y="393.75" width="27.98" height="22.35" fill="#3f94cd"/>
<rect x="219.74" y="393.75" width="27.98" height="22.35" fill="#3f94cd"/>
<rect x="246.92" y="393.75" width="27.98" height="22.35" fill="#338eca"/>
<rect x="274.10" y="393.75" width="27.98" height="22.35" fill="#2e8bc9"/>
<rect x="301.28" y="393.75" width="27.98" height="22.35" fill="#2888c7"/>
<rect x="328.46" y="393.75" width="27.98" height="22.35" fill="#338eca"/>
<rect x="355.63" y="393.75" width="27.98" height="22.35" fill="#2e8bc9"/>
<rect x="382.81" y="393.75" width="27.98" height="22.35" fill="#2888c7"/>
<rect x="409.99" y="393.75" width="27.98" height="22.35" fill="#2285c6"/>
<rect x="437.17" y="393.75" width="27.98" height="22.35" fill="#177fc3"/>
<rect x="464.34" y="393.75" width="27.98" height="22.35" fill="#2888c7"/>
<rect x="491.52" y="393.75" width="27.18" height="22.35" fill="#177fc3"/>
<rect x="29.50" y="415.30" width="27.98" height="22.35" fill="#177fc3"/>
<rect x="56.68" y="415.30" width="27.98" height="22.35" fill="#177fc3"/>
<rect x="83.86" y="415.30" width="27.98" height="22.35" fill="#1c82c4"/>
<rect x="111.03" y="415.30" width="27.98" height="22.35" fill="#1c82c4"/>
<rect x="138.21" y="415.30" width="27.98" height="22.35" fill="#177fc3"/>
<rect x="165.39" y="415.30" width="27.98" height="22.35" fill="#308cc9"/>
<rect x="192.57" y="415.30" width="27.98" height="22.35" fill="#2888c7"/>
<rect x="219.74" y="415.30" width="27.98" height="22.35" fill="#2e8bc9"/>
<rect x="246.92" y="415.30" width="27.98" height="22.35" fill="#2285c6"/>
<rect x="274.10" y="415.30" width="27.98" height="22.35" fill="#1c82c4"/>
<rect x="301.28" y="415.30" width="27.98" height="22.35" fill="#2285c6"/>
<rect x="328.46" y="415.30" width="27.98" height="22.35" fill="#3991cc"/>
<rect x="355.63" y="415.30" width="27.98" height="22.35" fill="#2888c7"/>
<rect x="382.81" y="415.30" width="27.98" height="22.35" fill="#3991cc"/>
<rect x="409.99" y="415.30" width="27.98" height="22.35" fill="#2285c6"/>
<rect x="437.17" y="415.30" width="27.98" height="22.35" fill="#1c82c4"/>
<rect x="464.34" y="415.30" width="27.98" height="22.35" fill="#177fc3"/>
<rect x="491.52" y="415.30" width="27.18" height="22.35" fill="#177fc3"/>
<rect x="29.50" y="436.85" width="27.98" height="22.35" fill="#117bc1"/>
<rect x="56.68" y="436.85" width="27.98" height="22.35" fill="#1c82c4"/>
<rect x="83.86" y="436.85" width="27.98" height="22.35" fill="#2285c6"/>
<rect x="111.03" y="436.85" width="27.98" height="22.35" fill="#1c82c4"/>
<rect x="138.21" y="436.85" width="27.98" height="22.35" fill="#1c82c4"/>
<rect x="165.39" y="436.85" width="27.98" height="22.35" fill="#1c82c4"/>
<rect x="192.57" y="436.85" width="27.98" height="22.35" fill="#2888c7"/>
<rect x="219.74" y="436.85" width="27.98" height="22.35" fill="#2285c6"/>
<rect x="246.92" y="436.85" width="27.98" height="22.35" fill="#338eca"/>
<rect x="274.10" y="436.85" width="27.98" height="22.35" fill="#338eca"/>
<rect x="301.28" y="436.85" width="27.98" height="22.35" fill="#338eca"/>
<rect x="328.46" y="436.85" width="27.98" height="22.35" fill="#2285c6"/>
<rect x="355.63" y="436.85" width="27.98" height="22.35" fill="#338eca"/>
<rect x="382.81" y="436.85" width="27.98" height="22.35" fill="#3991cc"/>
<rect x="409.99" y="436.85" width="27.98" height="22.35" fill="#2e8bc9"/>
<rect x="437.17" y="436.85" width="27.98" height="22.35" fill="#2285c6"/>
<rect x="464.34" y="436.85" width="27.98" height="22.35" fill="#1c82c4"/>
<rect x="491.52" y="436.85" width="27.18" height="22.35" fill="#177fc3"/>
<rect x="29.50" y="458.40" width="27.98" height="22.35" fill="#117bc1"/>
<rect x="56.68" y="458.40" width="27.98" height="22.35" fill="#117bc1"/>
<rect x="83.86" y="458.40" width="27.98" height="22.35" fill="#177fc3"/>
<rect x="111.03" y="458.40" width="27.98" height="22.35" fill="#117bc1"/>
<rect x="138.21" y="458.40" width="27.98" height="22.35" fill="#117bc1"/>
<rect x="165.39" y="458.40" width="27.98" height="22.35" fill="#1c82c4"/>
<rect x="192.57" y="458.40" width="27.98" height="22.35" fill="#2888c7"/>
<rect x="219.74" y="458.40" width="27.98" height="22.35" fill="#2e8bc9"/>
<rect x="246.92" y="458.40" width="27.98" height="22.35" fill="#2888c7"/>
<rect x="274.10" y="458.40" width="27.98" height="22.35" fill="#338eca"/>
<rect x="301.28" y="458.40" width="27.98" height="22.35" fill="#338eca"/>
<rect x="328.46" y="458.40" width="27.98" height="22.35" fill="#338eca"/>
<rect x="355.63" y="458.40" width="27.98" height="22.35" fill="#1c82c4"/>
<rect x="382.81" y="458.40" width="27.98" height="22.35" fill="#1c82c4"/>
<rect x="409.99" y="458.40" width="27.98" height="22.35" fill="#0675be"/>
<rect x="437.17" y="458.40" width="27.98" height="22.35" fill="#0675be"/>
<rect x="464.34" y="458.40" width="27.98" height="22.35" fill="#0072bd"/>
<rect x="491.52" y="458.40" width="27.18" height="22.35" fill="#0675be"/>
<rect x="29.50" y="479.95" width="27.98" height="21.55" fill="#0072bd"/>
<rect x="56.68" y="479.95" width="27.98" height="21.55" fill="#0675be"/>
<rect x="83.86" y="479.95" width="27.98" height="21.55" fill="#0675be"/>
<rect x="111.03" y="479.95" width="27.98" height="21.55" fill="#0675be"/>
<rect x="138.21" y="479.95" width="27.98" height="21.55" fill="#0675be"/>
<rect x="165.39" y="479.95" width="27.98" height="21.55" fill="#0675be"/>
<rect x="192.57" y="479.95" width="27.98" height="21.55" fill="#177fc3"/>
<rect x="219.74" y="479.95" width="27.98" height="21.55" fill="#1c82c4"/>
<rect x="246.92" y="479.95" width="27.98" height="21.55" fill="#4498cf"/>
<rect x="274.10" y="479.95" width="27.98" height="21.55" fill="#338eca"/>
<rect x="301.28" y="479.95" width="27.98" height="21.55" fill="#338eca"/>
<rect x="328.46" y="479.95" width="27.98" height="21.55" fill="#2e8bc9"/>
<rect x="355.63" y="479.95" width="27.98" height="21.55" fill="#cde3f2"/>
<rect x="382.81" y="479.95" width="27.98" height="21.55" fill="#e4eff8"/>
<rect x="409.99" y="479.95" width="27.98" height="21.55" fill="#bcd9ed"/>
<rect x="437.17" y="479.95" width="27.98" height="21.55" fill="#bcd9ed"/>
<rect x="464.34" y="479.95" width="27.98" height="21.55" fill="#b6d6ec"/>
<rect x="491.52" y="479.95" width="27.18" height="21.55" fill="#e4eff8"/>
<path d="M56.68 286.00V501.50M83.86 286.00V501.50M111.03 286.00V501.50M138.21 286.00V501.50M165.39 286.00V501.50M192.57 286.00V501.50M219.74 286.00V501.50M246.92 286.00V501.50M274.10 286.00V501.50M301.28 286.00V501.50M328.46 286.00V501.50M355.63 286.00V501.50M382.81 286.00V501.50M409.99 286.00V501.50M437.17 286.00V501.50M464.34 286.00V501.50M491.52 286.00V501.50M29.50 307.55H518.70M29.50 329.10H518.70M29.50 350.65H518.70M29.50 372.20H518.70M29.50 393.75H518.70M29.50 415.30H518.70M29.50 436.85H518.70M29.50 458.40H518.70M29.50 479.95H518.70" stroke="#000" stroke-opacity="0.15" stroke-width="0.9" fill="none"/>
<rect x="29.50" y="286.00" width="489.20" height="215.50" fill="none" stroke="#000" stroke-opacity="0.15" stroke-width="0.9"/>
<text x="42.89" y="300.77" fill="#fff" stroke="#fff" stroke-width="0.12">0.96</text>
<text x="70.07" y="300.77" fill="#fff" stroke="#fff" stroke-width="0.12">0.95</text>
<text x="97.24" y="300.77" fill="#fff" stroke="#fff" stroke-width="0.12">0.96</text>
<text x="124.42" y="300.77" fill="#fff" stroke="#fff" stroke-width="0.12">0.94</text>
<text x="151.60" y="300.77" fill="#fff" stroke="#fff" stroke-width="0.12">0.89</text>
<text x="178.78" y="300.77" fill="#151515" stroke="#151515" stroke-width="0.18">0.87</text>
<text x="205.96" y="300.77" fill="#fff" stroke="#fff" stroke-width="0.12">0.91</text>
<text x="233.13" y="300.77" fill="#fff" stroke="#fff" stroke-width="0.12">0.91</text>
<text x="260.31" y="300.77" fill="#fff" stroke="#fff" stroke-width="0.12">0.89</text>
<text x="287.49" y="300.77" fill="#151515" stroke="#151515" stroke-width="0.18">0.85</text>
<text x="314.67" y="300.77" fill="#151515" stroke="#151515" stroke-width="0.18">0.88</text>
<text x="341.84" y="300.77" fill="#151515" stroke="#151515" stroke-width="0.18">0.87</text>
<text x="369.02" y="300.77" fill="#151515" stroke="#151515" stroke-width="0.18">0.86</text>
<text x="396.20" y="300.77" fill="#151515" stroke="#151515" stroke-width="0.18">0.88</text>
<text x="423.38" y="300.77" fill="#151515" stroke="#151515" stroke-width="0.18">0.86</text>
<text x="450.56" y="300.77" fill="#151515" stroke="#151515" stroke-width="0.18">0.86</text>
<text x="477.73" y="300.77" fill="#fff" stroke="#fff" stroke-width="0.12">0.94</text>
<text x="504.91" y="300.77" fill="#fff" stroke="#fff" stroke-width="0.12">0.93</text>
<text x="42.89" y="322.32" fill="#fff" stroke="#fff" stroke-width="0.12">0.95</text>
<text x="70.07" y="322.32" fill="#fff" stroke="#fff" stroke-width="0.12">0.94</text>
<text x="97.24" y="322.32" fill="#fff" stroke="#fff" stroke-width="0.12">0.92</text>
<text x="124.42" y="322.32" fill="#fff" stroke="#fff" stroke-width="0.12">0.90</text>
<text x="151.60" y="322.32" fill="#fff" stroke="#fff" stroke-width="0.12">0.89</text>
<text x="178.78" y="322.32" fill="#fff" stroke="#fff" stroke-width="0.12">0.91</text>
<text x="205.96" y="322.32" fill="#fff" stroke="#fff" stroke-width="0.12">0.91</text>
<text x="233.13" y="322.32" fill="#fff" stroke="#fff" stroke-width="0.12">0.90</text>
<text x="260.31" y="322.32" fill="#fff" stroke="#fff" stroke-width="0.12">0.90</text>
<text x="287.49" y="322.32" fill="#fff" stroke="#fff" stroke-width="0.12">0.90</text>
<text x="314.67" y="322.32" fill="#151515" stroke="#151515" stroke-width="0.18">0.87</text>
<text x="341.84" y="322.32" fill="#fff" stroke="#fff" stroke-width="0.12">0.92</text>
<text x="369.02" y="322.32" fill="#151515" stroke="#151515" stroke-width="0.18">0.86</text>
<text x="396.20" y="322.32" fill="#151515" stroke="#151515" stroke-width="0.18">0.87</text>
<text x="423.38" y="322.32" fill="#fff" stroke="#fff" stroke-width="0.12">0.89</text>
<text x="450.56" y="322.32" fill="#fff" stroke="#fff" stroke-width="0.12">0.96</text>
<text x="477.73" y="322.32" fill="#fff" stroke="#fff" stroke-width="0.12">0.94</text>
<text x="504.91" y="322.32" fill="#fff" stroke="#fff" stroke-width="0.12">0.92</text>
<text x="42.89" y="343.88" fill="#fff" stroke="#fff" stroke-width="0.12">0.92</text>
<text x="70.07" y="343.88" fill="#fff" stroke="#fff" stroke-width="0.12">0.96</text>
<text x="97.24" y="343.88" fill="#fff" stroke="#fff" stroke-width="0.12">0.96</text>
<text x="124.42" y="343.88" fill="#fff" stroke="#fff" stroke-width="0.12">0.93</text>
<text x="151.60" y="343.88" fill="#fff" stroke="#fff" stroke-width="0.12">0.90</text>
<text x="178.78" y="343.88" fill="#fff" stroke="#fff" stroke-width="0.12">0.90</text>
<text x="205.96" y="343.88" fill="#fff" stroke="#fff" stroke-width="0.12">0.92</text>
<text x="233.13" y="343.88" fill="#151515" stroke="#151515" stroke-width="0.18">0.88</text>
<text x="260.31" y="343.88" fill="#fff" stroke="#fff" stroke-width="0.12">0.92</text>
<text x="287.49" y="343.88" fill="#fff" stroke="#fff" stroke-width="0.12">0.91</text>
<text x="314.67" y="343.88" fill="#fff" stroke="#fff" stroke-width="0.12">0.92</text>
<text x="341.84" y="343.88" fill="#fff" stroke="#fff" stroke-width="0.12">0.89</text>
<text x="369.02" y="343.88" fill="#fff" stroke="#fff" stroke-width="0.12">0.89</text>
<text x="396.20" y="343.88" fill="#151515" stroke="#151515" stroke-width="0.18">0.87</text>
<text x="423.38" y="343.88" fill="#151515" stroke="#151515" stroke-width="0.18">0.87</text>
<text x="450.56" y="343.88" fill="#fff" stroke="#fff" stroke-width="0.12">0.91</text>
<text x="477.73" y="343.88" fill="#fff" stroke="#fff" stroke-width="0.12">0.93</text>
<text x="504.91" y="343.88" fill="#fff" stroke="#fff" stroke-width="0.12">0.94</text>
<text x="42.89" y="365.43" fill="#fff" stroke="#fff" stroke-width="0.12">0.96</text>
<text x="70.07" y="365.43" fill="#fff" stroke="#fff" stroke-width="0.12">0.95</text>
<text x="97.24" y="365.43" fill="#fff" stroke="#fff" stroke-width="0.12">0.95</text>
<text x="124.42" y="365.43" fill="#fff" stroke="#fff" stroke-width="0.12">0.94</text>
<text x="151.60" y="365.43" fill="#fff" stroke="#fff" stroke-width="0.12">0.91</text>
<text x="178.78" y="365.43" fill="#fff" stroke="#fff" stroke-width="0.12">0.89</text>
<text x="205.96" y="365.43" fill="#fff" stroke="#fff" stroke-width="0.12">0.91</text>
<text x="233.13" y="365.43" fill="#fff" stroke="#fff" stroke-width="0.12">0.89</text>
<text x="260.31" y="365.43" fill="#fff" stroke="#fff" stroke-width="0.12">0.90</text>
<text x="287.49" y="365.43" fill="#fff" stroke="#fff" stroke-width="0.12">0.90</text>
<text x="314.67" y="365.43" fill="#151515" stroke="#151515" stroke-width="0.18">0.88</text>
<text x="341.84" y="365.43" fill="#fff" stroke="#fff" stroke-width="0.12">0.90</text>
<text x="369.02" y="365.43" fill="#151515" stroke="#151515" stroke-width="0.18">0.87</text>
<text x="396.20" y="365.43" fill="#fff" stroke="#fff" stroke-width="0.12">0.91</text>
<text x="423.38" y="365.43" fill="#fff" stroke="#fff" stroke-width="0.12">0.90</text>
<text x="450.56" y="365.43" fill="#fff" stroke="#fff" stroke-width="0.12">0.93</text>
<text x="477.73" y="365.43" fill="#fff" stroke="#fff" stroke-width="0.12">0.94</text>
<text x="504.91" y="365.43" fill="#fff" stroke="#fff" stroke-width="0.12">0.96</text>
<text x="42.89" y="386.98" fill="#fff" stroke="#fff" stroke-width="0.12">0.96</text>
<text x="70.07" y="386.98" fill="#fff" stroke="#fff" stroke-width="0.12">0.95</text>
<text x="97.24" y="386.98" fill="#fff" stroke="#fff" stroke-width="0.12">0.96</text>
<text x="124.42" y="386.98" fill="#fff" stroke="#fff" stroke-width="0.12">0.95</text>
<text x="151.60" y="386.98" fill="#fff" stroke="#fff" stroke-width="0.12">0.94</text>
<text x="178.78" y="386.98" fill="#fff" stroke="#fff" stroke-width="0.12">0.91</text>
<text x="205.96" y="386.98" fill="#fff" stroke="#fff" stroke-width="0.12">0.92</text>
<text x="233.13" y="386.98" fill="#fff" stroke="#fff" stroke-width="0.12">0.91</text>
<text x="260.31" y="386.98" fill="#fff" stroke="#fff" stroke-width="0.12">0.90</text>
<text x="287.49" y="386.98" fill="#fff" stroke="#fff" stroke-width="0.12">0.89</text>
<text x="314.67" y="386.98" fill="#fff" stroke="#fff" stroke-width="0.12">0.92</text>
<text x="341.84" y="386.98" fill="#fff" stroke="#fff" stroke-width="0.12">0.91</text>
<text x="369.02" y="386.98" fill="#fff" stroke="#fff" stroke-width="0.12">0.90</text>
<text x="396.20" y="386.98" fill="#fff" stroke="#fff" stroke-width="0.12">0.90</text>
<text x="423.38" y="386.98" fill="#fff" stroke="#fff" stroke-width="0.12">0.92</text>
<text x="450.56" y="386.98" fill="#fff" stroke="#fff" stroke-width="0.12">0.93</text>
<text x="477.73" y="386.98" fill="#fff" stroke="#fff" stroke-width="0.12">0.95</text>
<text x="504.91" y="386.98" fill="#fff" stroke="#fff" stroke-width="0.12">0.94</text>
<text x="42.89" y="408.52" fill="#fff" stroke="#fff" stroke-width="0.12">0.94</text>
<text x="70.07" y="408.52" fill="#fff" stroke="#fff" stroke-width="0.12">0.95</text>
<text x="97.24" y="408.52" fill="#fff" stroke="#fff" stroke-width="0.12">0.94</text>
<text x="124.42" y="408.52" fill="#fff" stroke="#fff" stroke-width="0.12">0.95</text>
<text x="151.60" y="408.52" fill="#fff" stroke="#fff" stroke-width="0.12">0.95</text>
<text x="178.78" y="408.52" fill="#fff" stroke="#fff" stroke-width="0.12">0.91</text>
<text x="205.96" y="408.52" fill="#151515" stroke="#151515" stroke-width="0.18">0.88</text>
<text x="233.13" y="408.52" fill="#151515" stroke="#151515" stroke-width="0.18">0.88</text>
<text x="260.31" y="408.52" fill="#fff" stroke="#fff" stroke-width="0.12">0.90</text>
<text x="287.49" y="408.52" fill="#fff" stroke="#fff" stroke-width="0.12">0.91</text>
<text x="314.67" y="408.52" fill="#fff" stroke="#fff" stroke-width="0.12">0.92</text>
<text x="341.84" y="408.52" fill="#fff" stroke="#fff" stroke-width="0.12">0.90</text>
<text x="369.02" y="408.52" fill="#fff" stroke="#fff" stroke-width="0.12">0.91</text>
<text x="396.20" y="408.52" fill="#fff" stroke="#fff" stroke-width="0.12">0.92</text>
<text x="423.38" y="408.52" fill="#fff" stroke="#fff" stroke-width="0.12">0.93</text>
<text x="450.56" y="408.52" fill="#fff" stroke="#fff" stroke-width="0.12">0.95</text>
<text x="477.73" y="408.52" fill="#fff" stroke="#fff" stroke-width="0.12">0.92</text>
<text x="504.91" y="408.52" fill="#fff" stroke="#fff" stroke-width="0.12">0.95</text>
<text x="42.89" y="430.08" fill="#fff" stroke="#fff" stroke-width="0.12">0.95</text>
<text x="70.07" y="430.08" fill="#fff" stroke="#fff" stroke-width="0.12">0.95</text>
<text x="97.24" y="430.08" fill="#fff" stroke="#fff" stroke-width="0.12">0.94</text>
<text x="124.42" y="430.08" fill="#fff" stroke="#fff" stroke-width="0.12">0.94</text>
<text x="151.60" y="430.08" fill="#fff" stroke="#fff" stroke-width="0.12">0.95</text>
<text x="178.78" y="430.08" fill="#fff" stroke="#fff" stroke-width="0.12">0.91</text>
<text x="205.96" y="430.08" fill="#fff" stroke="#fff" stroke-width="0.12">0.92</text>
<text x="233.13" y="430.08" fill="#fff" stroke="#fff" stroke-width="0.12">0.91</text>
<text x="260.31" y="430.08" fill="#fff" stroke="#fff" stroke-width="0.12">0.93</text>
<text x="287.49" y="430.08" fill="#fff" stroke="#fff" stroke-width="0.12">0.94</text>
<text x="314.67" y="430.08" fill="#fff" stroke="#fff" stroke-width="0.12">0.93</text>
<text x="341.84" y="430.08" fill="#fff" stroke="#fff" stroke-width="0.12">0.89</text>
<text x="369.02" y="430.08" fill="#fff" stroke="#fff" stroke-width="0.12">0.92</text>
<text x="396.20" y="430.08" fill="#fff" stroke="#fff" stroke-width="0.12">0.89</text>
<text x="423.38" y="430.08" fill="#fff" stroke="#fff" stroke-width="0.12">0.93</text>
<text x="450.56" y="430.08" fill="#fff" stroke="#fff" stroke-width="0.12">0.94</text>
<text x="477.73" y="430.08" fill="#fff" stroke="#fff" stroke-width="0.12">0.95</text>
<text x="504.91" y="430.08" fill="#fff" stroke="#fff" stroke-width="0.12">0.95</text>
<text x="42.89" y="451.62" fill="#fff" stroke="#fff" stroke-width="0.12">0.96</text>
<text x="70.07" y="451.62" fill="#fff" stroke="#fff" stroke-width="0.12">0.94</text>
<text x="97.24" y="451.62" fill="#fff" stroke="#fff" stroke-width="0.12">0.93</text>
<text x="124.42" y="451.62" fill="#fff" stroke="#fff" stroke-width="0.12">0.94</text>
<text x="151.60" y="451.62" fill="#fff" stroke="#fff" stroke-width="0.12">0.94</text>
<text x="178.78" y="451.62" fill="#fff" stroke="#fff" stroke-width="0.12">0.94</text>
<text x="205.96" y="451.62" fill="#fff" stroke="#fff" stroke-width="0.12">0.92</text>
<text x="233.13" y="451.62" fill="#fff" stroke="#fff" stroke-width="0.12">0.93</text>
<text x="260.31" y="451.62" fill="#fff" stroke="#fff" stroke-width="0.12">0.90</text>
<text x="287.49" y="451.62" fill="#fff" stroke="#fff" stroke-width="0.12">0.90</text>
<text x="314.67" y="451.62" fill="#fff" stroke="#fff" stroke-width="0.12">0.90</text>
<text x="341.84" y="451.62" fill="#fff" stroke="#fff" stroke-width="0.12">0.93</text>
<text x="369.02" y="451.62" fill="#fff" stroke="#fff" stroke-width="0.12">0.90</text>
<text x="396.20" y="451.62" fill="#fff" stroke="#fff" stroke-width="0.12">0.89</text>
<text x="423.38" y="451.62" fill="#fff" stroke="#fff" stroke-width="0.12">0.91</text>
<text x="450.56" y="451.62" fill="#fff" stroke="#fff" stroke-width="0.12">0.93</text>
<text x="477.73" y="451.62" fill="#fff" stroke="#fff" stroke-width="0.12">0.94</text>
<text x="504.91" y="451.62" fill="#fff" stroke="#fff" stroke-width="0.12">0.95</text>
<text x="42.89" y="473.18" fill="#fff" stroke="#fff" stroke-width="0.12">0.96</text>
<text x="70.07" y="473.18" fill="#fff" stroke="#fff" stroke-width="0.12">0.96</text>
<text x="97.24" y="473.18" fill="#fff" stroke="#fff" stroke-width="0.12">0.95</text>
<text x="124.42" y="473.18" fill="#fff" stroke="#fff" stroke-width="0.12">0.96</text>
<text x="151.60" y="473.18" fill="#fff" stroke="#fff" stroke-width="0.12">0.96</text>
<text x="178.78" y="473.18" fill="#fff" stroke="#fff" stroke-width="0.12">0.94</text>
<text x="205.96" y="473.18" fill="#fff" stroke="#fff" stroke-width="0.12">0.92</text>
<text x="233.13" y="473.18" fill="#fff" stroke="#fff" stroke-width="0.12">0.91</text>
<text x="260.31" y="473.18" fill="#fff" stroke="#fff" stroke-width="0.12">0.92</text>
<text x="287.49" y="473.18" fill="#fff" stroke="#fff" stroke-width="0.12">0.90</text>
<text x="314.67" y="473.18" fill="#fff" stroke="#fff" stroke-width="0.12">0.90</text>
<text x="341.84" y="473.18" fill="#fff" stroke="#fff" stroke-width="0.12">0.90</text>
<text x="369.02" y="473.18" fill="#fff" stroke="#fff" stroke-width="0.12">0.94</text>
<text x="396.20" y="473.18" fill="#fff" stroke="#fff" stroke-width="0.12">0.94</text>
<text x="423.38" y="473.18" fill="#fff" stroke="#fff" stroke-width="0.12">0.98</text>
<text x="450.56" y="473.18" fill="#fff" stroke="#fff" stroke-width="0.12">0.98</text>
<text x="477.73" y="473.18" fill="#fff" stroke="#fff" stroke-width="0.12">0.99</text>
<text x="504.91" y="473.18" fill="#fff" stroke="#fff" stroke-width="0.12">0.98</text>
<text x="42.89" y="494.73" fill="#fff" stroke="#fff" stroke-width="0.12">0.99</text>
<text x="70.07" y="494.73" fill="#fff" stroke="#fff" stroke-width="0.12">0.98</text>
<text x="97.24" y="494.73" fill="#fff" stroke="#fff" stroke-width="0.12">0.98</text>
<text x="124.42" y="494.73" fill="#fff" stroke="#fff" stroke-width="0.12">0.98</text>
<text x="151.60" y="494.73" fill="#fff" stroke="#fff" stroke-width="0.12">0.98</text>
<text x="178.78" y="494.73" fill="#fff" stroke="#fff" stroke-width="0.12">0.98</text>
<text x="205.96" y="494.73" fill="#fff" stroke="#fff" stroke-width="0.12">0.95</text>
<text x="233.13" y="494.73" fill="#fff" stroke="#fff" stroke-width="0.12">0.94</text>
<text x="260.31" y="494.73" fill="#151515" stroke="#151515" stroke-width="0.18">0.87</text>
<text x="287.49" y="494.73" fill="#fff" stroke="#fff" stroke-width="0.12">0.90</text>
<text x="314.67" y="494.73" fill="#fff" stroke="#fff" stroke-width="0.12">0.90</text>
<text x="341.84" y="494.73" fill="#fff" stroke="#fff" stroke-width="0.12">0.91</text>
<text x="369.02" y="494.73" fill="#151515" stroke="#151515" stroke-width="0.18">0.63</text>
<text x="396.20" y="494.73" fill="#151515" stroke="#151515" stroke-width="0.18">0.59</text>
<text x="423.38" y="494.73" fill="#151515" stroke="#151515" stroke-width="0.18">0.66</text>
<text x="450.56" y="494.73" fill="#151515" stroke="#151515" stroke-width="0.18">0.66</text>
<text x="477.73" y="494.73" fill="#151515" stroke="#151515" stroke-width="0.18">0.67</text>
<text x="504.91" y="494.73" fill="#151515" stroke="#151515" stroke-width="0.18">0.59</text>
<text class="tk tm" x="43.09" y="513.00">1</text>
<text class="tk tm" x="70.27" y="513.00">2</text>
<text class="tk tm" x="97.44" y="513.00">3</text>
<text class="tk tm" x="124.62" y="513.00">4</text>
<text class="tk tm" x="151.80" y="513.00">5</text>
<text class="tk tm" x="178.98" y="513.00">6</text>
<text class="tk tm" x="206.16" y="513.00">7</text>
<text class="tk tm" x="233.33" y="513.00">8</text>
<text class="tk tm" x="260.51" y="513.00">9</text>
<text class="tk tm" x="287.69" y="513.00">10</text>
<text class="tk tm" x="314.87" y="513.00">11</text>
<text class="tk tm" x="342.04" y="513.00">12</text>
<text class="tk tm" x="369.22" y="513.00">13</text>
<text class="tk tm" x="396.40" y="513.00">14</text>
<text class="tk tm" x="423.58" y="513.00">15</text>
<text class="tk tm" x="450.76" y="513.00">16</text>
<text class="tk tm" x="477.93" y="513.00">17</text>
<text class="tk tm" x="505.11" y="513.00">18</text>
<text class="tk te" x="26.00" y="300.17">1</text>
<text class="tk te" x="26.00" y="321.72">2</text>
<text class="tk te" x="26.00" y="343.27">3</text>
<text class="tk te" x="26.00" y="364.82">4</text>
<text class="tk te" x="26.00" y="386.38">5</text>
<text class="tk te" x="26.00" y="407.92">6</text>
<text class="tk te" x="26.00" y="429.48">7</text>
<text class="tk te" x="26.00" y="451.02">8</text>
<text class="tk te" x="26.00" y="472.57">9</text>
<text class="tk te" x="26.00" y="494.12">10</text>
<defs><linearGradient id="gb" x1="0" y1="0" x2="0" y2="1"><stop offset="0.0000" stop-color="#0072bd"/><stop offset="0.0625" stop-color="#0e7ac1"/><stop offset="0.1250" stop-color="#1d82c4"/><stop offset="0.1875" stop-color="#2b8ac8"/><stop offset="0.2500" stop-color="#3992cc"/><stop offset="0.3125" stop-color="#4899cf"/><stop offset="0.3750" stop-color="#56a1d3"/><stop offset="0.4375" stop-color="#64a9d7"/><stop offset="0.5000" stop-color="#72b1da"/><stop offset="0.5625" stop-color="#81b9de"/><stop offset="0.6250" stop-color="#8fc1e2"/><stop offset="0.6875" stop-color="#9dc9e6"/><stop offset="0.7500" stop-color="#acd0e9"/><stop offset="0.8125" stop-color="#bad8ed"/><stop offset="0.8750" stop-color="#c8e0f1"/><stop offset="0.9375" stop-color="#d7e8f4"/><stop offset="1.0000" stop-color="#e5f0f8"/></linearGradient></defs>
<rect x="522" y="286.00" width="7.5" height="215.50" fill="url(#gb)" stroke="rgba(0,0,0,0.3)" stroke-width="0.6"/>
<path d="M528.00 495.07H529.5" stroke="rgba(0,0,0,0.3)" stroke-width="0.5"/>
<text class="tk" x="531.70" y="498.07">0.6</text>
<path d="M528.00 468.26H529.5" stroke="rgba(0,0,0,0.3)" stroke-width="0.5"/>
<text class="tk" x="531.70" y="471.26">0.65</text>
<path d="M528.00 441.46H529.5" stroke="rgba(0,0,0,0.3)" stroke-width="0.5"/>
<text class="tk" x="531.70" y="444.46">0.7</text>
<path d="M528.00 414.66H529.5" stroke="rgba(0,0,0,0.3)" stroke-width="0.5"/>
<text class="tk" x="531.70" y="417.66">0.75</text>
<path d="M528.00 387.85H529.5" stroke="rgba(0,0,0,0.3)" stroke-width="0.5"/>
<text class="tk" x="531.70" y="390.85">0.8</text>
<path d="M528.00 361.05H529.5" stroke="rgba(0,0,0,0.3)" stroke-width="0.5"/>
<text class="tk" x="531.70" y="364.05">0.85</text>
<path d="M528.00 334.25H529.5" stroke="rgba(0,0,0,0.3)" stroke-width="0.5"/>
<text class="tk" x="531.70" y="337.25">0.9</text>
<path d="M528.00 307.44H529.5" stroke="rgba(0,0,0,0.3)" stroke-width="0.5"/>
<text class="tk" x="531.70" y="310.44">0.95</text>
<text class="ti" x="17.2" y="278.10">(b) Weld Specimen_50 scope – timeTrain: 3 h 33 min</text>
<text class="ax" x="236.9" y="529.70">X directional connection</text>
<text class="ax tm" transform="translate(12.5,389.65) rotate(-90)" x="0" y="0">Y directional connection</text>
</svg>
</body></html>
